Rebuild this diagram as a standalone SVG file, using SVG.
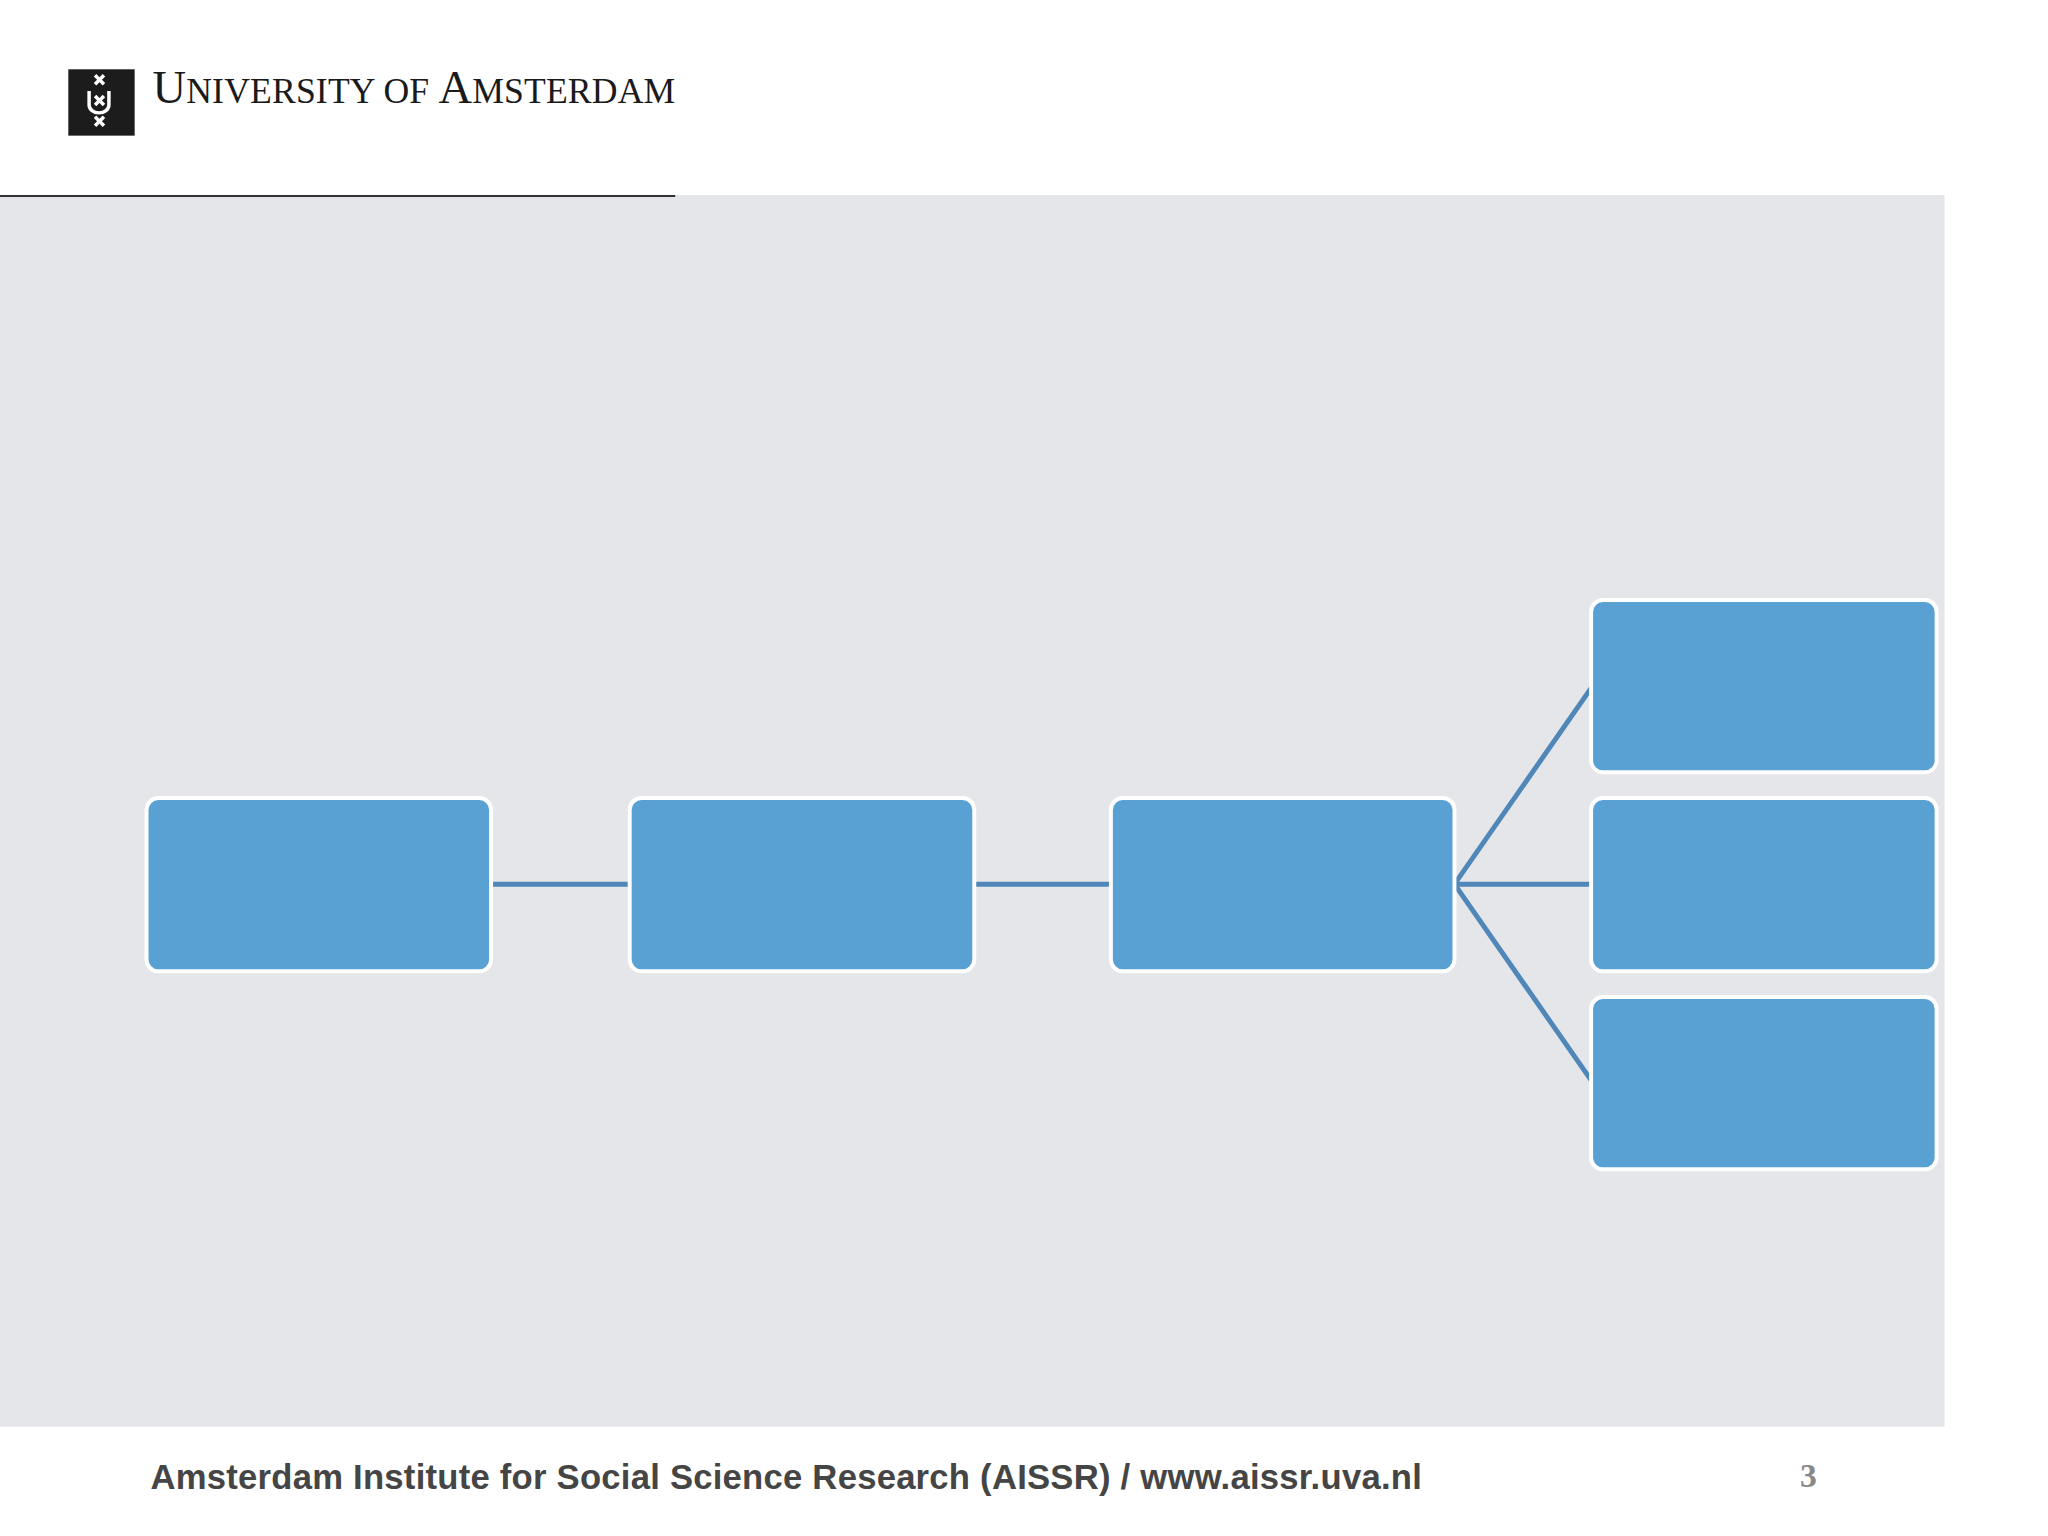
<svg xmlns="http://www.w3.org/2000/svg" width="2048" height="1536" viewBox="0 0 2048 1536">
<style>
.box{fill:#5aa1d3;stroke:#ffffff;stroke-width:4}
.con{stroke:#4f88b8;stroke-width:5;fill:none}
.t{font-family:"Liberation Serif",serif;fill:#1a1a1a}
</style>
<rect width="2048" height="1536" fill="#ffffff"/>
<g transform="scale(0.9901)">
<rect x="0" y="197" width="1964" height="1244" fill="#e4e6e9"/>
<line x1="0" y1="198" x2="682" y2="198" stroke="#333" stroke-width="2"/>
<g id="logo">
<rect x="69" y="70" width="67" height="67" fill="#1c1c1c"/>
<g stroke="#fff" stroke-width="3.5">
<path d="M96 76l9 9M105 76l-9 9M96 97l9 9M105 97l-9 9M96 118l9 9M105 118l-9 9"/>
<path d="M90 92v14a10 8 0 0 0 20 0v-14" fill="none"/>
</g>
</g>
<text class="t" x="154" y="104" font-size="47" textLength="528">U<tspan font-size="36">NIVERSITY OF </tspan>A<tspan font-size="36">MSTERDAM</tspan></text>
<g id="connectors">
<line class="con" x1="496" y1="893" x2="636" y2="893"/>
<line class="con" x1="984" y1="893" x2="1122" y2="893"/>
<path class="con" d="M1607 695L1469 893L1607 893M1469 893L1607 1091"/>
</g>
<g id="n1"><rect class="box" x="148" y="806" width="348" height="175" rx="12"/></g>
<g id="n2"><rect class="box" x="636" y="806" width="348" height="175" rx="12"/></g>
<g id="n3"><rect class="box" x="1122" y="806" width="347" height="175" rx="12"/></g>
<g id="n4"><rect class="box" x="1607" y="606" width="349" height="174" rx="12"/></g>
<g id="n5"><rect class="box" x="1607" y="806" width="349" height="175" rx="12"/></g>
<g id="n6"><rect class="box" x="1607" y="1007" width="349" height="174" rx="12"/></g>
<text x="152" y="1504" font-family="Liberation Sans,sans-serif" font-weight="bold" font-size="35" fill="#454545" textLength="1284">Amsterdam Institute for Social Science Research (AISSR) / www.aissr.uva.nl</text>
<text x="1818" y="1502" font-family="Liberation Serif,serif" font-weight="bold" font-size="34" fill="#888">3</text>
</g>
</svg>
